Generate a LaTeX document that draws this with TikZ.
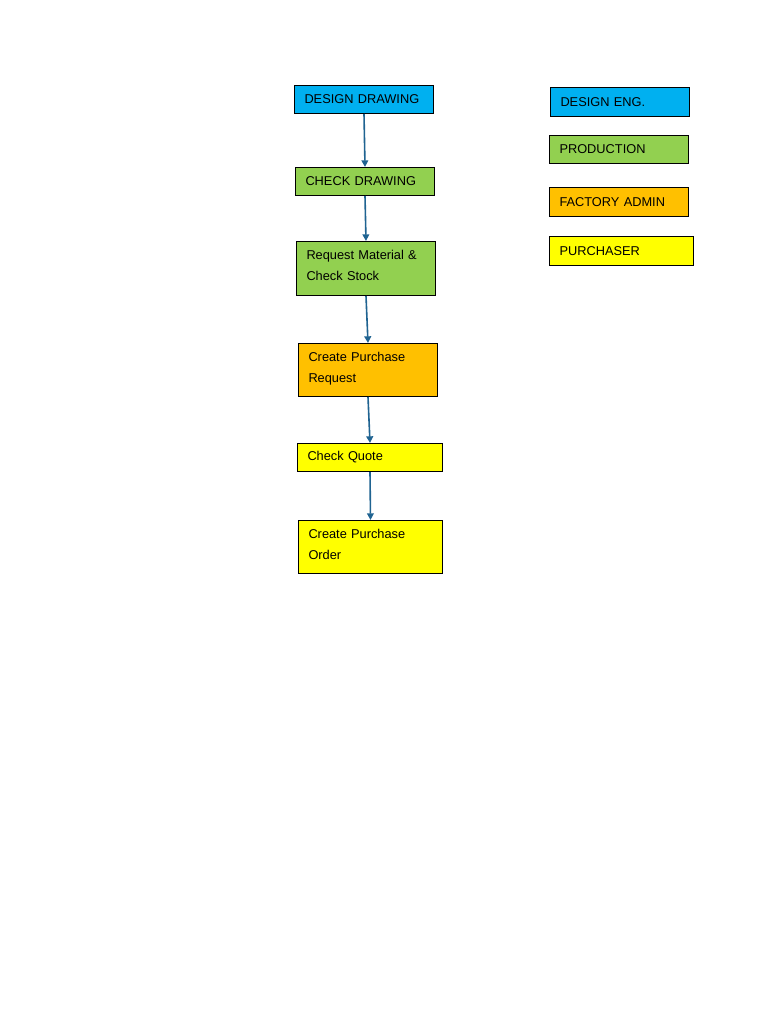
\documentclass[tikz,border=0pt]{standalone}
\usepackage{fontspec}
\setmainfont{Liberation Sans}
\usetikzlibrary{arrows.meta}

\begin{document}
\begin{tikzpicture}[x=0.75pt,y=0.75pt,yscale=-1,xscale=1,
  stepbox/.style={draw={rgb, 255:red, 0; green, 0; blue, 0 },line width=0.75pt,anchor=north west,inner xsep=7.5pt,inner ysep=0pt,align=left,font=\fontsize{9.6}{15.75}\selectfont},
  twoline/.style={text depth=20pt},
  flow/.style={draw={rgb, 255:red, 31; green, 99; blue, 145 },line width=1.2pt,-{Triangle[width=5pt,length=5pt]}}]
%set diagram left start at 0, and has height of 1024
\useasboundingbox (0,0) rectangle (768,1024);

%Shape: Rectangle [id:design]
\node (dd) [stepbox,fill={rgb, 255:red, 0; green, 176; blue, 240 },text width=89.25pt,minimum height=21pt] at (294,85) {DESIGN DRAWING};
%Shape: Rectangle [id:check]
\node (cd) [stepbox,fill={rgb, 255:red, 146; green, 208; blue, 80 },text width=89.25pt,minimum height=21pt] at (295,167) {CHECK DRAWING};
%Shape: Rectangle [id:request]
\node (rm) [stepbox,twoline,fill={rgb, 255:red, 146; green, 208; blue, 80 },text width=89.25pt,minimum height=40.5pt] at (296,241) {Request Material \&\\Check Stock};
%Shape: Rectangle [id:purchreq]
\node (cpr) [stepbox,twoline,fill={rgb, 255:red, 255; green, 192; blue, 0 },text width=89.25pt,minimum height=39.75pt] at (298,343) {Create Purchase\\Request};
%Shape: Rectangle [id:quote]
\node (cq) [stepbox,fill={rgb, 255:red, 255; green, 255; blue, 0 },text width=93.75pt,minimum height=21pt] at (297,443) {Check Quote};
%Shape: Rectangle [id:purchord]
\node (cpo) [stepbox,twoline,fill={rgb, 255:red, 255; green, 255; blue, 0 },text width=93pt,minimum height=39.75pt] at (298,520) {Create Purchase\\Order};

%Legend
\node (leng) [stepbox,fill={rgb, 255:red, 0; green, 176; blue, 240 },text width=89.25pt,minimum height=21.75pt] at (550,87) {DESIGN ENG.};
\node (lprod) [stepbox,fill={rgb, 255:red, 146; green, 208; blue, 80 },text width=89.25pt,minimum height=21pt] at (549,135) {PRODUCTION};
\node (ladm) [stepbox,fill={rgb, 255:red, 255; green, 192; blue, 0 },text width=89.25pt,minimum height=21.75pt] at (549,187) {FACTORY ADMIN};
\node (lpur) [stepbox,fill={rgb, 255:red, 255; green, 255; blue, 0 },text width=93pt,minimum height=21.75pt] at (549,236) {PURCHASER};

%Straight Lines
\draw [flow] (dd.south) -- (cd.north);
\draw [flow] (cd.south) -- (rm.north);
\draw [flow] (rm.south) -- (cpr.north);
\draw [flow] (cpr.south) -- (cq.north);
\draw [flow] (cq.south) -- (cpo.north);

\end{tikzpicture}
\end{document}
